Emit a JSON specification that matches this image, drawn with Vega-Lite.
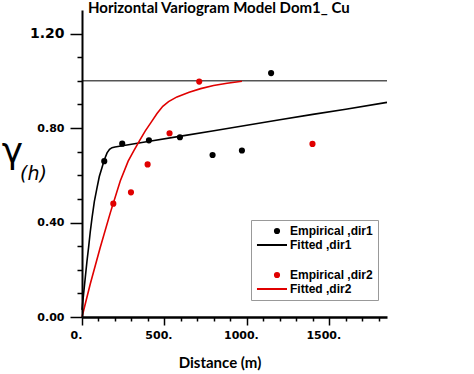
{
  "$schema": "https://vega.github.io/schema/vega-lite/v6.json",
  "autosize": {"type": "none"},
  "padding": {"left": 82, "top": 10, "right": 87, "bottom": 57},
  "width": 305,
  "height": 307,
  "background": "white",
  "config": {"view": {"stroke": null}, "axis": {"grid": false, "ticks": true, "tickColor": "#000000", "tickWidth": 1.5, "tickOpacity": 1, "tickRound": true}},
  "title": {"text": "Horizontal Variogram Model  Dom1_ Cu", "anchor": "start", "frame": "group", "font": "Lato", "fontSize": 15, "fontWeight": "bold", "color": "black", "baseline": "alphabetic", "offset": 0, "dx": 6, "dy": 18},
  "datasets": {
    "emp": [
      {"series": "Empirical ,dir1", "d": 135, "g": 0.66},
      {"series": "Empirical ,dir1", "d": 244, "g": 0.734},
      {"series": "Empirical ,dir1", "d": 406, "g": 0.748},
      {"series": "Empirical ,dir1", "d": 594, "g": 0.761},
      {"series": "Empirical ,dir1", "d": 792, "g": 0.686},
      {"series": "Empirical ,dir1", "d": 970, "g": 0.705},
      {"series": "Empirical ,dir1", "d": 1147, "g": 1.033},
      {"series": "Empirical ,dir2", "d": 190, "g": 0.48},
      {"series": "Empirical ,dir2", "d": 297, "g": 0.528},
      {"series": "Empirical ,dir2", "d": 398, "g": 0.646},
      {"series": "Empirical ,dir2", "d": 531, "g": 0.778},
      {"series": "Empirical ,dir2", "d": 711, "g": 0.997},
      {"series": "Empirical ,dir2", "d": 1398, "g": 0.733}
    ],
    "fit": [
      {"series": "Fitted ,dir1", "d": 0, "g": 0.03},
      {"series": "Fitted ,dir1", "d": 10, "g": 0.1},
      {"series": "Fitted ,dir1", "d": 20, "g": 0.168},
      {"series": "Fitted ,dir1", "d": 30, "g": 0.235},
      {"series": "Fitted ,dir1", "d": 40, "g": 0.295},
      {"series": "Fitted ,dir1", "d": 50, "g": 0.36},
      {"series": "Fitted ,dir1", "d": 61, "g": 0.421},
      {"series": "Fitted ,dir1", "d": 75, "g": 0.49},
      {"series": "Fitted ,dir1", "d": 91, "g": 0.547},
      {"series": "Fitted ,dir1", "d": 105, "g": 0.595},
      {"series": "Fitted ,dir1", "d": 121, "g": 0.632},
      {"series": "Fitted ,dir1", "d": 135, "g": 0.665},
      {"series": "Fitted ,dir1", "d": 152, "g": 0.695},
      {"series": "Fitted ,dir1", "d": 167, "g": 0.71},
      {"series": "Fitted ,dir1", "d": 182, "g": 0.717},
      {"series": "Fitted ,dir1", "d": 200, "g": 0.72},
      {"series": "Fitted ,dir1", "d": 400, "g": 0.743},
      {"series": "Fitted ,dir1", "d": 600, "g": 0.766},
      {"series": "Fitted ,dir1", "d": 800, "g": 0.789},
      {"series": "Fitted ,dir1", "d": 1000, "g": 0.812},
      {"series": "Fitted ,dir1", "d": 1200, "g": 0.835},
      {"series": "Fitted ,dir1", "d": 1400, "g": 0.858},
      {"series": "Fitted ,dir1", "d": 1600, "g": 0.88},
      {"series": "Fitted ,dir1", "d": 1850, "g": 0.909},
      {"series": "Fitted ,dir2", "d": 0, "g": 0.0},
      {"series": "Fitted ,dir2", "d": 50, "g": 0.14},
      {"series": "Fitted ,dir2", "d": 111, "g": 0.295},
      {"series": "Fitted ,dir2", "d": 172, "g": 0.442},
      {"series": "Fitted ,dir2", "d": 232, "g": 0.576},
      {"series": "Fitted ,dir2", "d": 280, "g": 0.66},
      {"series": "Fitted ,dir2", "d": 313, "g": 0.702},
      {"series": "Fitted ,dir2", "d": 350, "g": 0.748},
      {"series": "Fitted ,dir2", "d": 384, "g": 0.788},
      {"series": "Fitted ,dir2", "d": 420, "g": 0.825},
      {"series": "Fitted ,dir2", "d": 455, "g": 0.862},
      {"series": "Fitted ,dir2", "d": 490, "g": 0.892},
      {"series": "Fitted ,dir2", "d": 525, "g": 0.912},
      {"series": "Fitted ,dir2", "d": 576, "g": 0.932},
      {"series": "Fitted ,dir2", "d": 650, "g": 0.952},
      {"series": "Fitted ,dir2", "d": 720, "g": 0.967},
      {"series": "Fitted ,dir2", "d": 798, "g": 0.98},
      {"series": "Fitted ,dir2", "d": 880, "g": 0.99},
      {"series": "Fitted ,dir2", "d": 970, "g": 0.998}
    ]
  },
  "resolve": {"axis": {"x": "independent", "y": "independent"}},
  "layer": [
    {
      "data": {"values": [{"s": 1}]},
      "mark": {"type": "rule", "color": "#555555", "strokeWidth": 1.5},
      "encoding": {
        "x": {"datum": 0, "type": "quantitative", "scale": {"domain": [0, 1850], "nice": false}, "axis": null},
        "x2": {"datum": 1850},
        "y": {"datum": 1.0, "type": "quantitative", "scale": {"domain": [0, 1.3], "nice": false}, "axis": null}
      }
    },
    {
      "data": {"name": "fit"},
      "mark": {"type": "line", "strokeWidth": 1.6},
      "encoding": {
        "x": {"field": "d", "type": "quantitative", "scale": {"domain": [0, 1850], "nice": false},
          "axis": {"orient": "bottom", "values": [0, 100, 200, 300, 400, 500, 600, 700, 800, 900, 1000, 1100, 1200, 1300, 1400, 1500, 1600, 1700, 1800],
            "tickSize": {"condition": {"test": "datum.value % 500 === 0", "value": 8}, "value": 4}, "labels": false, "domain": false, "title": null, "zindex": 1}},
        "y": {"field": "g", "type": "quantitative", "scale": {"domain": [0, 1.3], "nice": false},
          "axis": {"orient": "left", "values": [0, 0.1, 0.2, 0.3, 0.4, 0.5, 0.6, 0.7, 0.8, 0.9, 1.0, 1.1, 1.2],
            "tickSize": {"condition": {"test": "datum.value === 0 || datum.value === 0.4 || datum.value === 0.8 || datum.value === 1.2", "value": 12}, "value": 5},
            "domain": true, "domainColor": "black", "domainWidth": 2, "zindex": 1,
            "labelExpr": "datum.value === 1.2 ? '1.20' : ''", "labelFont": "DejaVu Sans", "labelFontWeight": "bold", "labelFontSize": 14, "labelColor": "black", "labelPadding": 6, "labelOverlap": false,
            "title": "(h)", "titleAngle": 0, "titleFont": "DejaVu Sans", "titleFontStyle": "italic", "titleFontWeight": "normal", "titleFontSize": 19, "titleColor": "black", "titleX": -49, "titleY": 169, "titleAlign": "center", "titleBaseline": "alphabetic"}},
        "stroke": {"field": "series", "type": "nominal",
          "scale": {"domain": ["Empirical ,dir1", "Fitted ,dir1", " ", "Empirical ,dir2", "Fitted ,dir2"], "range": ["transparent", "black", "transparent", "transparent", "#e00000"]}}
      }
    },
    {
      "data": {"name": "emp"},
      "mark": {"type": "point", "filled": true, "opacity": 1, "size": 38},
      "encoding": {
        "x": {"field": "d", "type": "quantitative", "scale": {"domain": [0, 1850], "nice": false},
          "axis": {"orient": "bottom", "values": [0, 500, 1000, 1500], "domain": true, "ticks": false, "zindex": 1, "tickSize": 8, "domainWidth": 2.5, "domainColor": "black",
            "labelFont": "DejaVu Sans", "labelFontWeight": "bold", "labelFontSize": 11, "labelColor": "black", "labelExpr": "datum.value + '.'", "labelOffset": -6, "labelPadding": 12, "labelFlush": false, "labelOverlap": false,
            "title": "Distance (m)", "titleFont": "Lato", "titleFontSize": 15, "titleFontWeight": "bold", "titleColor": "black", "titleX": 137.5, "titleY": 50, "titleAlign": "center", "titleBaseline": "alphabetic"}},
        "y": {"field": "g", "type": "quantitative", "scale": {"domain": [0, 1.3], "nice": false},
          "axis": {"orient": "left", "values": [0, 0.4, 0.8, 1.2], "domain": false, "ticks": false, "zindex": 1,
            "labelExpr": "datum.value === 1.2 ? '' : format(datum.value, '.2f')", "labelFont": "DejaVu Sans", "labelFontWeight": "bold", "labelColor": "black", "labelFontSize": 11, "labelPadding": 18, "labelOverlap": false,
            "title": "γ", "titleAngle": 0, "titleFont": "DejaVu Sans", "titleFontWeight": "normal", "titleFontSize": 36, "titleColor": "black", "titleX": -70, "titleY": 152, "titleAlign": "center", "titleBaseline": "alphabetic"}},
        "fill": {"field": "series", "type": "nominal",
          "scale": {"domain": ["Empirical ,dir1", "Fitted ,dir1", " ", "Empirical ,dir2", "Fitted ,dir2"], "range": ["black", "transparent", "transparent", "#e00000", "transparent"]},
          "legend": {"title": null, "orient": "none", "legendX": 169, "legendY": 210, "padding": 5, "strokeColor": "#999999", "fillColor": "white",
            "labelFont": "Liberation Sans", "labelFontWeight": "bold", "labelFontSize": 12, "labelColor": "black", "labelOffset": 7, "rowPadding": 0, "symbolOffset": 15, "symbolSize": 38, "symbolStrokeWidth": 2, "symbolOpacity": 1}},
        "stroke": {"field": "series", "type": "nominal",
          "scale": {"domain": ["Empirical ,dir1", "Fitted ,dir1", " ", "Empirical ,dir2", "Fitted ,dir2"], "range": ["transparent", "black", "transparent", "transparent", "#e00000"]}},
        "shape": {"field": "series", "type": "nominal",
          "scale": {"domain": ["Empirical ,dir1", "Fitted ,dir1", " ", "Empirical ,dir2", "Fitted ,dir2"], "range": ["circle", "M-6.5,0H3.25", "circle", "circle", "M-6.5,0H3.25"]}}
      }
    }
  ]
}
